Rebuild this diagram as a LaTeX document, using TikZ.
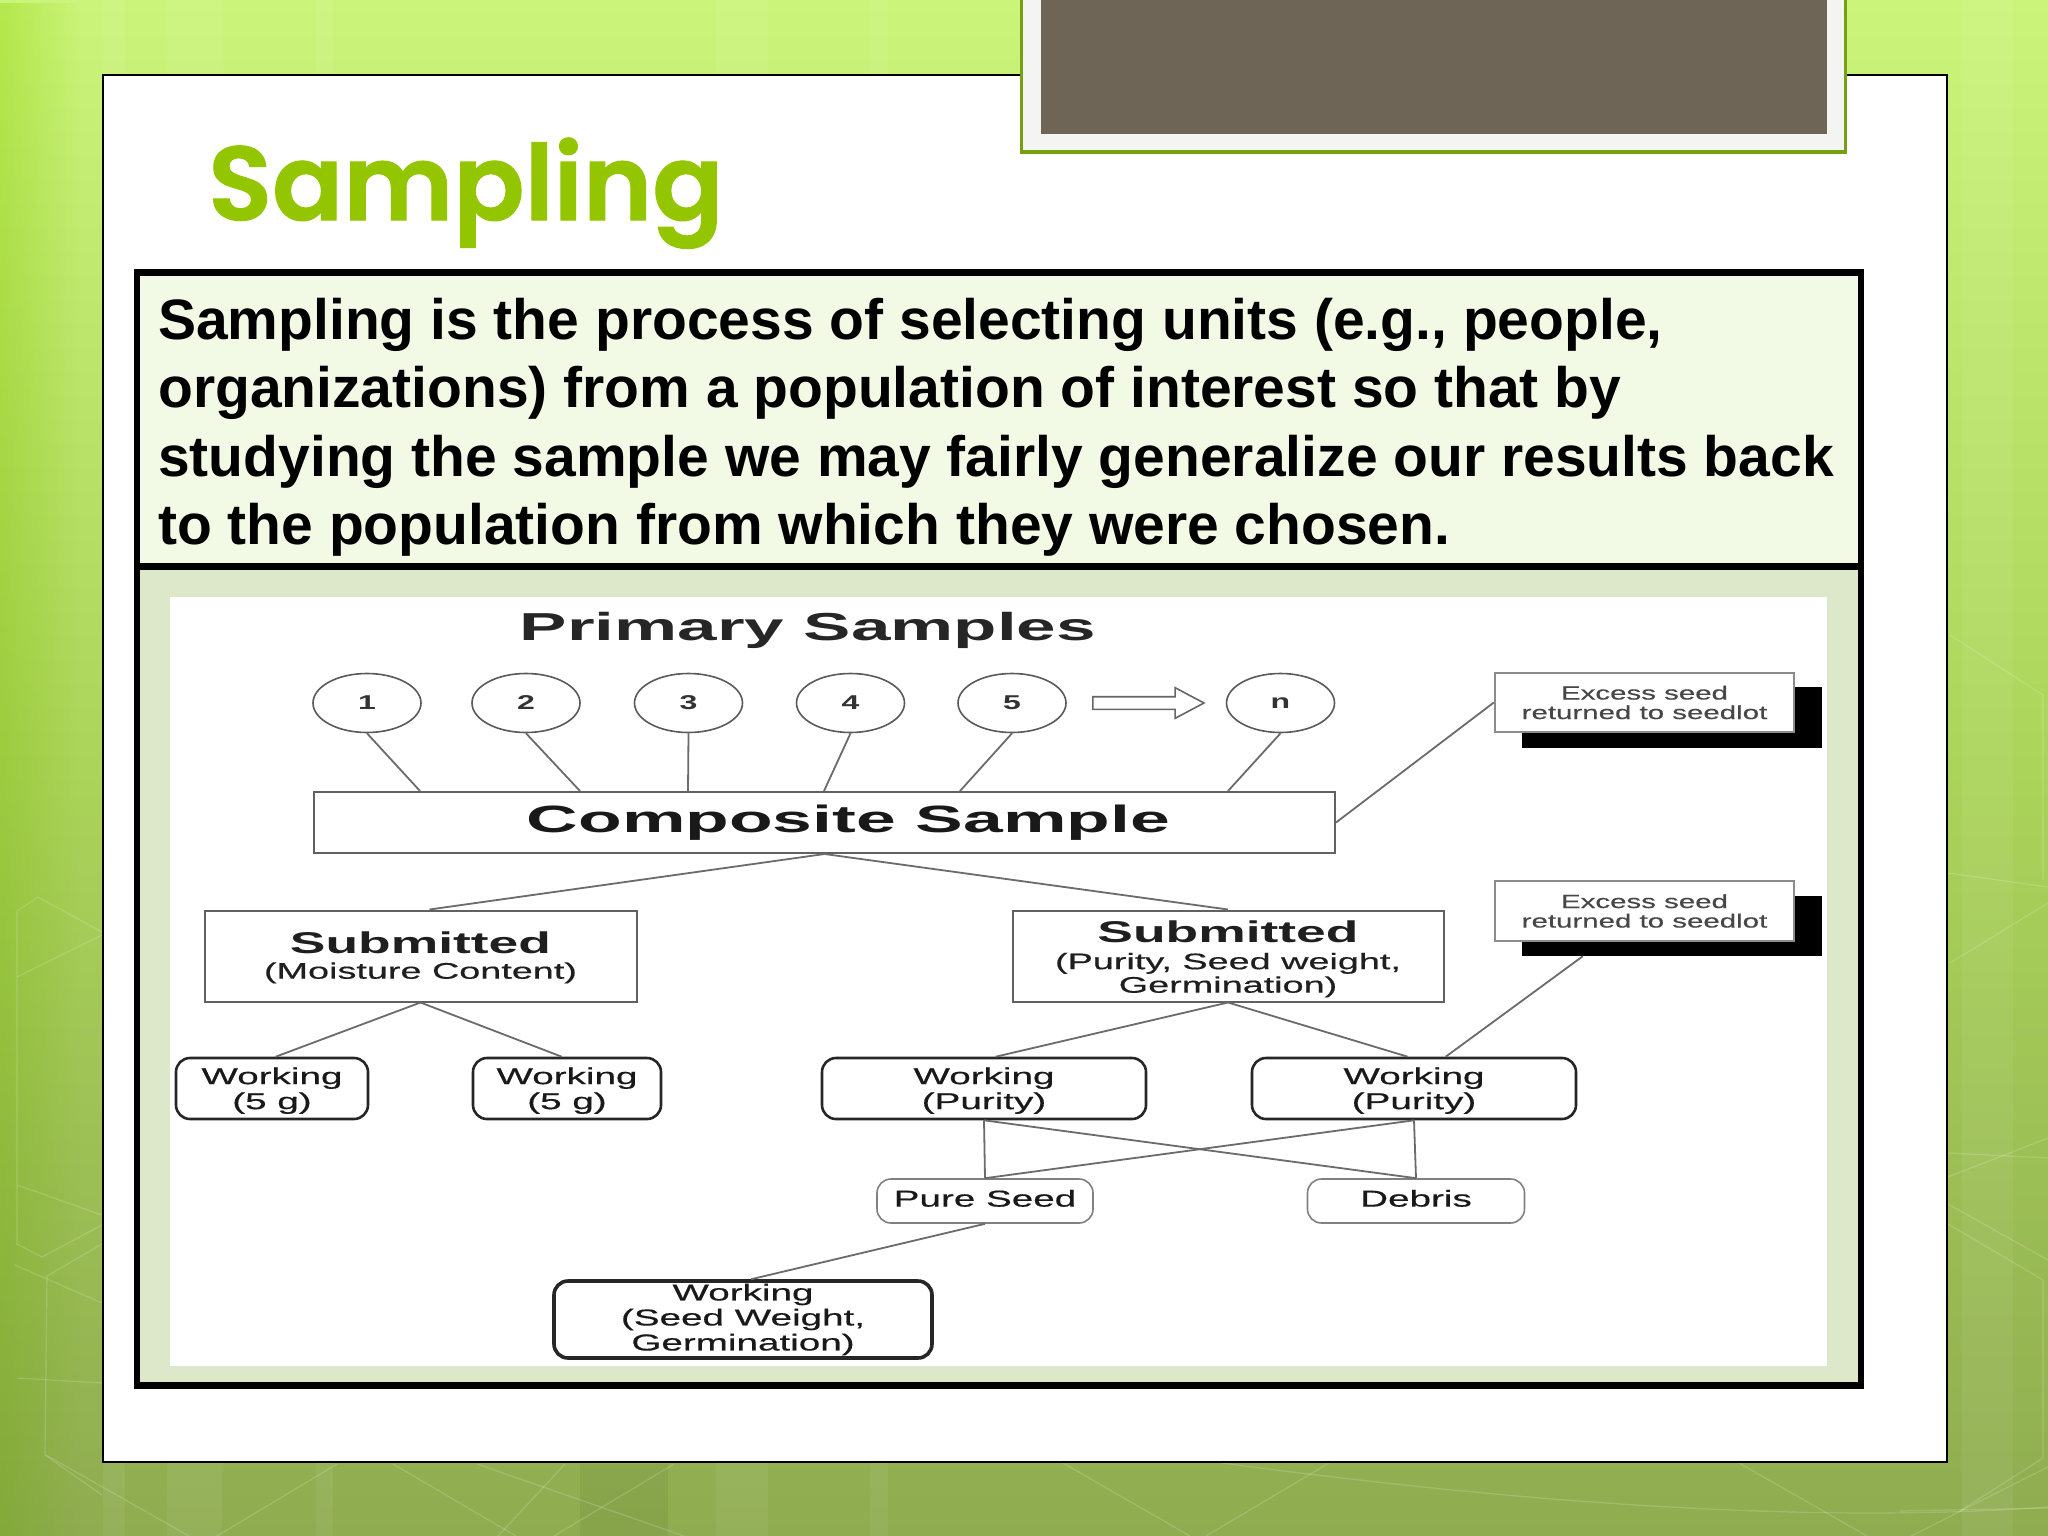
\documentclass[tikz,border=0pt]{standalone}
\usepackage{fontspec}
\usetikzlibrary{shapes.geometric,shapes.arrows,fadings}
\setmainfont{Liberation Sans}
\newfontfamily\titlefont{Poppins SemiBold}[FakeBold=1]
\newfontfamily\dg{Liberation Sans}[FakeStretch=1.68,FakeBold=0.5]
\newfontfamily\dgx{Liberation Sans}[FakeStretch=1.55,FakeBold=0.4]
\newfontfamily\dgh{Liberation Sans Bold}[FakeStretch=1.82]
\newfontfamily\dgc{Liberation Sans Bold}[FakeStretch=1.88]
\newfontfamily\dgs{Liberation Sans Bold}[FakeStretch=1.78]
\newfontfamily\dgn{Liberation Sans Bold}[FakeStretch=1.6]
\newcommand{\fs}[2]{\fontsize{#1}{#2}\selectfont}
\definecolor{titlegreen}{HTML}{94C600}
\definecolor{photo}{HTML}{6F6557}
\definecolor{photoedge}{HTML}{F4F5F2}
\definecolor{photoline}{HTML}{769F12}
\definecolor{upper}{HTML}{F2F9E5}
\definecolor{lower}{HTML}{DDE8CB}
\definecolor{bgtop}{HTML}{CBF47A}
\definecolor{bgmid}{HTML}{ABD45A}
\definecolor{bgbot}{HTML}{8FAC50}
\definecolor{edgetop}{HTML}{B4E84C}
\definecolor{edgemid}{HTML}{9CCB3F}
\definecolor{edgebot}{HTML}{83A93A}
\tikzset{
  x=1pt,y=-1pt,
  gline/.style={white,opacity=.17,line width=1.2pt},
  stripe/.style={white,opacity=.06},
  cbox/.style={draw=black!62,line width=2pt,fill=white,inner sep=0pt,align=center,font=\dg\color{black!88}},
  samp/.style={draw=black!65,line width=1.6pt,fill=white,ellipse,minimum width=108pt,minimum height=59pt,inner sep=0pt,font=\dgn\fs{20}{22}\color{black!80}},
  xbox/.style={draw=black!45,line width=2.4pt,fill=white,inner sep=0pt,align=center,minimum width=299pt,minimum height=59pt,font=\dgx\fs{19}{19.5}\color{black!72}},
  shadowbox/.style={fill=black,inner sep=0pt,minimum width=300pt},
  work/.style={draw=black!85,line width=2.6pt,fill=white,rounded corners=14pt,inner sep=0pt,align=center,font=\dg\fs{23}{25}\color{black!90}},
  res/.style={draw=black!50,line width=1.6pt,fill=white,rounded corners=14pt,inner sep=0pt,align=center,font=\dg\fs{23}{25}\color{black!90}},
  link/.style={draw=black!58,line width=1.8pt},
}
\newcommand{\lowerit}{\rule{0pt}{21pt}}
\newcommand{\raiseit}{\rule[-5.5pt]{0pt}{1pt}}
\begin{document}
\begin{tikzpicture}
\useasboundingbox (0,0) rectangle (2048,1536);
% background
\shade[top color=bgtop,bottom color=bgbot,middle color=bgmid] (0,0) rectangle (2048,1536);
\shade[top color=edgetop,bottom color=edgebot,middle color=edgemid,path fading=east] (0,0) rectangle (80,1536);
\fill[stripe] (103,0) rectangle (125,1536);
\fill[stripe] (167,0) rectangle (222,1536);
\fill[stripe] (316,0) rectangle (333,1536);
\fill[stripe] (716,0) rectangle (768,1536);
\fill[stripe] (870,0) rectangle (888,1536);
\fill[stripe] (1962,0) rectangle (2013,1536);
\fill[black,opacity=.05] (580,1464) rectangle (668,1536);
\draw[gline] (17,977) -- (17,911) -- (38,897) -- (102,932);
\draw[gline] (17,977) -- (102,935);
\draw[gline] (17,977) -- (17,1244) -- (42,1257) -- (102,1225);
\draw[gline] (17,1185) -- (102,1215);
\draw[gline] (15,1265) -- (102,1303);
\draw[gline] (102,1244) -- (47,1276) -- (45,1455) -- (102,1495);
\draw[gline] (17,1378) -- (102,1383);
\draw[gline] (46,1455) -- (189,1536);
\draw[gline] (337,1464) -- (217,1536);
\draw[gline] (393,1464) -- (516,1536);
\draw[gline] (477,1464) -- (684,1536);
\draw[gline] (565,1464) -- (498,1536);
\draw[gline] (674,1464) -- (554,1536);
\draw[gline] (1063,1463) -- (1190,1536);
\draw[gline] (1329,1463) -- (1206,1536);
\draw[gline] (1222,1463) .. controls (1500,1500) and (1800,1525) .. (2048,1507);
\draw[gline] (1739,1463) -- (1867,1536);
\draw[gline] (2048,1467) -- (1911,1536);
\draw[gline] (1950,635) -- (2043,695) -- (2043,880);
\draw[gline] (1948,873) -- (2048,887);
\draw[gline] (1950,963) -- (2048,903);
\draw[gline] (1948,1153) -- (2048,1158);
\draw[gline] (1948,1177) -- (2048,1138);
\draw[gline] (1948,1204) -- (2048,1260);
\draw[gline] (1948,1224) -- (2043,1280) -- (2043,1458) -- (1960,1511);
\draw[gline] (1900,1511) -- (2048,1508);
% slide panel and photo placeholder
\node[draw=black,line width=2.4pt,fill=white,minimum width=1844pt,minimum height=1387pt,inner sep=0pt] (panel) at (1025,768.5) {};
\node[draw=photoline,line width=3.4pt,fill=photoedge,minimum width=824pt,minimum height=170pt,inner sep=0pt] (frame) at (1433.5,67) {};
\node[fill=photo,minimum width=786pt,minimum height=144pt,inner sep=0pt] (photo) at (1434,62) {};
\node[anchor=base west,inner sep=0pt,text=titlegreen,font=\titlefont\fs{105}{110}] (title) at (208,220) {Sampling};
% table
\node[fill=upper,draw=black,line width=6.5pt,minimum width=1724pt,minimum height=294.5pt,inner sep=0pt] (upperbox) at (999,419.5) {};
\node[fill=lower,draw=black,line width=6.5pt,minimum width=1724pt,minimum height=819pt,inner sep=0pt] (lowerbox) at (999,976) {};
\node[anchor=north west,inner sep=0pt,align=left,font=\fs{57}{68.4}\bfseries] (body) at (158,298) {Sampling is the process of selecting units (e.g., people,\\organizations) from a population of interest so that by\\studying the sample we may fairly generalize our results back\\to the population from which they were chosen.};
\node[fill=white,minimum width=1657pt,minimum height=769pt,inner sep=0pt] (sheet) at (998.5,981.5) {};
% diagram
\node[anchor=base,inner sep=0pt,font=\dgh\fs{39}{41}\color{black!85}] (head) at (808,640) {Primary Samples};
\node[samp] (c1) at (367,703) {1};
\node[samp] (c2) at (526,703) {2};
\node[samp] (c3) at (688.5,703) {3};
\node[samp] (c4) at (850.5,703) {4};
\node[samp] (c5) at (1012,703) {5};
\node[samp] (cn) at (1280.5,703) {n};
\node[single arrow,draw=black!60,line width=1.6pt,fill=white,inner xsep=0pt,inner ysep=5.5pt,minimum height=111pt,single arrow head extend=9pt,single arrow tip angle=56] (more) at (1142.5,703) {};
\node[cbox,minimum width=1021pt,minimum height=61pt,font=\dgc\fs{38}{40}\color{black!90}] (comp) at (824.5,822.5) {\hspace*{48pt}Composite Sample};
\node[shadowbox,minimum height=61pt] (s1) at (1672,717.5) {};
\node[shadowbox,minimum height=60pt] (s2) at (1672,926) {};
\node[xbox] (x1) at (1644.5,702.5) {Excess seed\\returned to seedlot};
\node[xbox,minimum height=60pt] (x2) at (1644.5,911) {Excess seed\\returned to seedlot};
\node[cbox,minimum width=432pt,minimum height=91pt,font=\dg\fs{22.5}{25}\color{black!88}] (sub1) at (420.5,956) {\rule{0pt}{25pt}{\dgs\fs{30}{25}Submitted}\\(Moisture Content)};
\node[cbox,minimum width=431pt,minimum height=91pt,font=\dg\fs{22.5}{23.5}\color{black!88}] (sub2) at (1228,956) {\rule{0pt}{28pt}{\dgs\fs{30}{25}Submitted}\\[3pt](Purity, Seed weight,\\Germination)};
\node[work,minimum width=192pt,minimum height=61pt] (w1) at (272,1088.5) {\lowerit Working\\(5 g)};
\node[work,minimum width=188pt,minimum height=61pt] (w2) at (567,1088.5) {\lowerit Working\\(5 g)};
\node[work,minimum width=324pt,minimum height=61pt] (w3) at (984,1088.5) {\lowerit Working\\(Purity)};
\node[work,minimum width=324pt,minimum height=61pt] (w4) at (1414,1088.5) {\lowerit Working\\(Purity)};
\node[res,minimum width=216pt,minimum height=44pt] (pure) at (985,1201) {\raiseit Pure Seed};
\node[res,minimum width=217pt,minimum height=44pt] (debris) at (1416,1201) {\raiseit Debris};
\node[work,line width=3.6pt,minimum width=378pt,minimum height=77pt] (w5) at (743,1319.5) {Working\\(Seed Weight,\\Germination)};
% connectors
\draw[link] (c1.south) -- ([xshift=107]comp.north west);
\draw[link] (c2.south) -- ([xshift=267]comp.north west);
\draw[link] (c3.south) -- ([xshift=375]comp.north west);
\draw[link] (c4.south) -- ([xshift=511]comp.north west);
\draw[link] (c5.south) -- ([xshift=647]comp.north west);
\draw[link] (cn.south) -- ([xshift=915]comp.north west);
\draw[link] (comp.east) -- (x1.west);
\draw[link] (comp.south) -- ([xshift=226]sub1.north west);
\draw[link] (comp.south) -- (sub2.north);
\draw[link] (sub1.south) -- ([xshift=101]w1.north west);
\draw[link] (sub1.south) -- ([xshift=90]w2.north west);
\draw[link] (sub2.south) -- ([xshift=175]w3.north west);
\draw[link] (sub2.south) -- ([xshift=157]w4.north west);
\draw[link] ([xshift=61]s2.south west) -- ([xshift=195]w4.north west);
\draw[link] (w3.south) -- (pure.north);
\draw[link] (w3.south) -- (debris.north);
\draw[link] (w4.south) -- (debris.north);
\draw[link] (w4.south) -- (pure.north);
\draw[link] (pure.south) -- ([xshift=199]w5.north west);
\end{tikzpicture}
\end{document}
